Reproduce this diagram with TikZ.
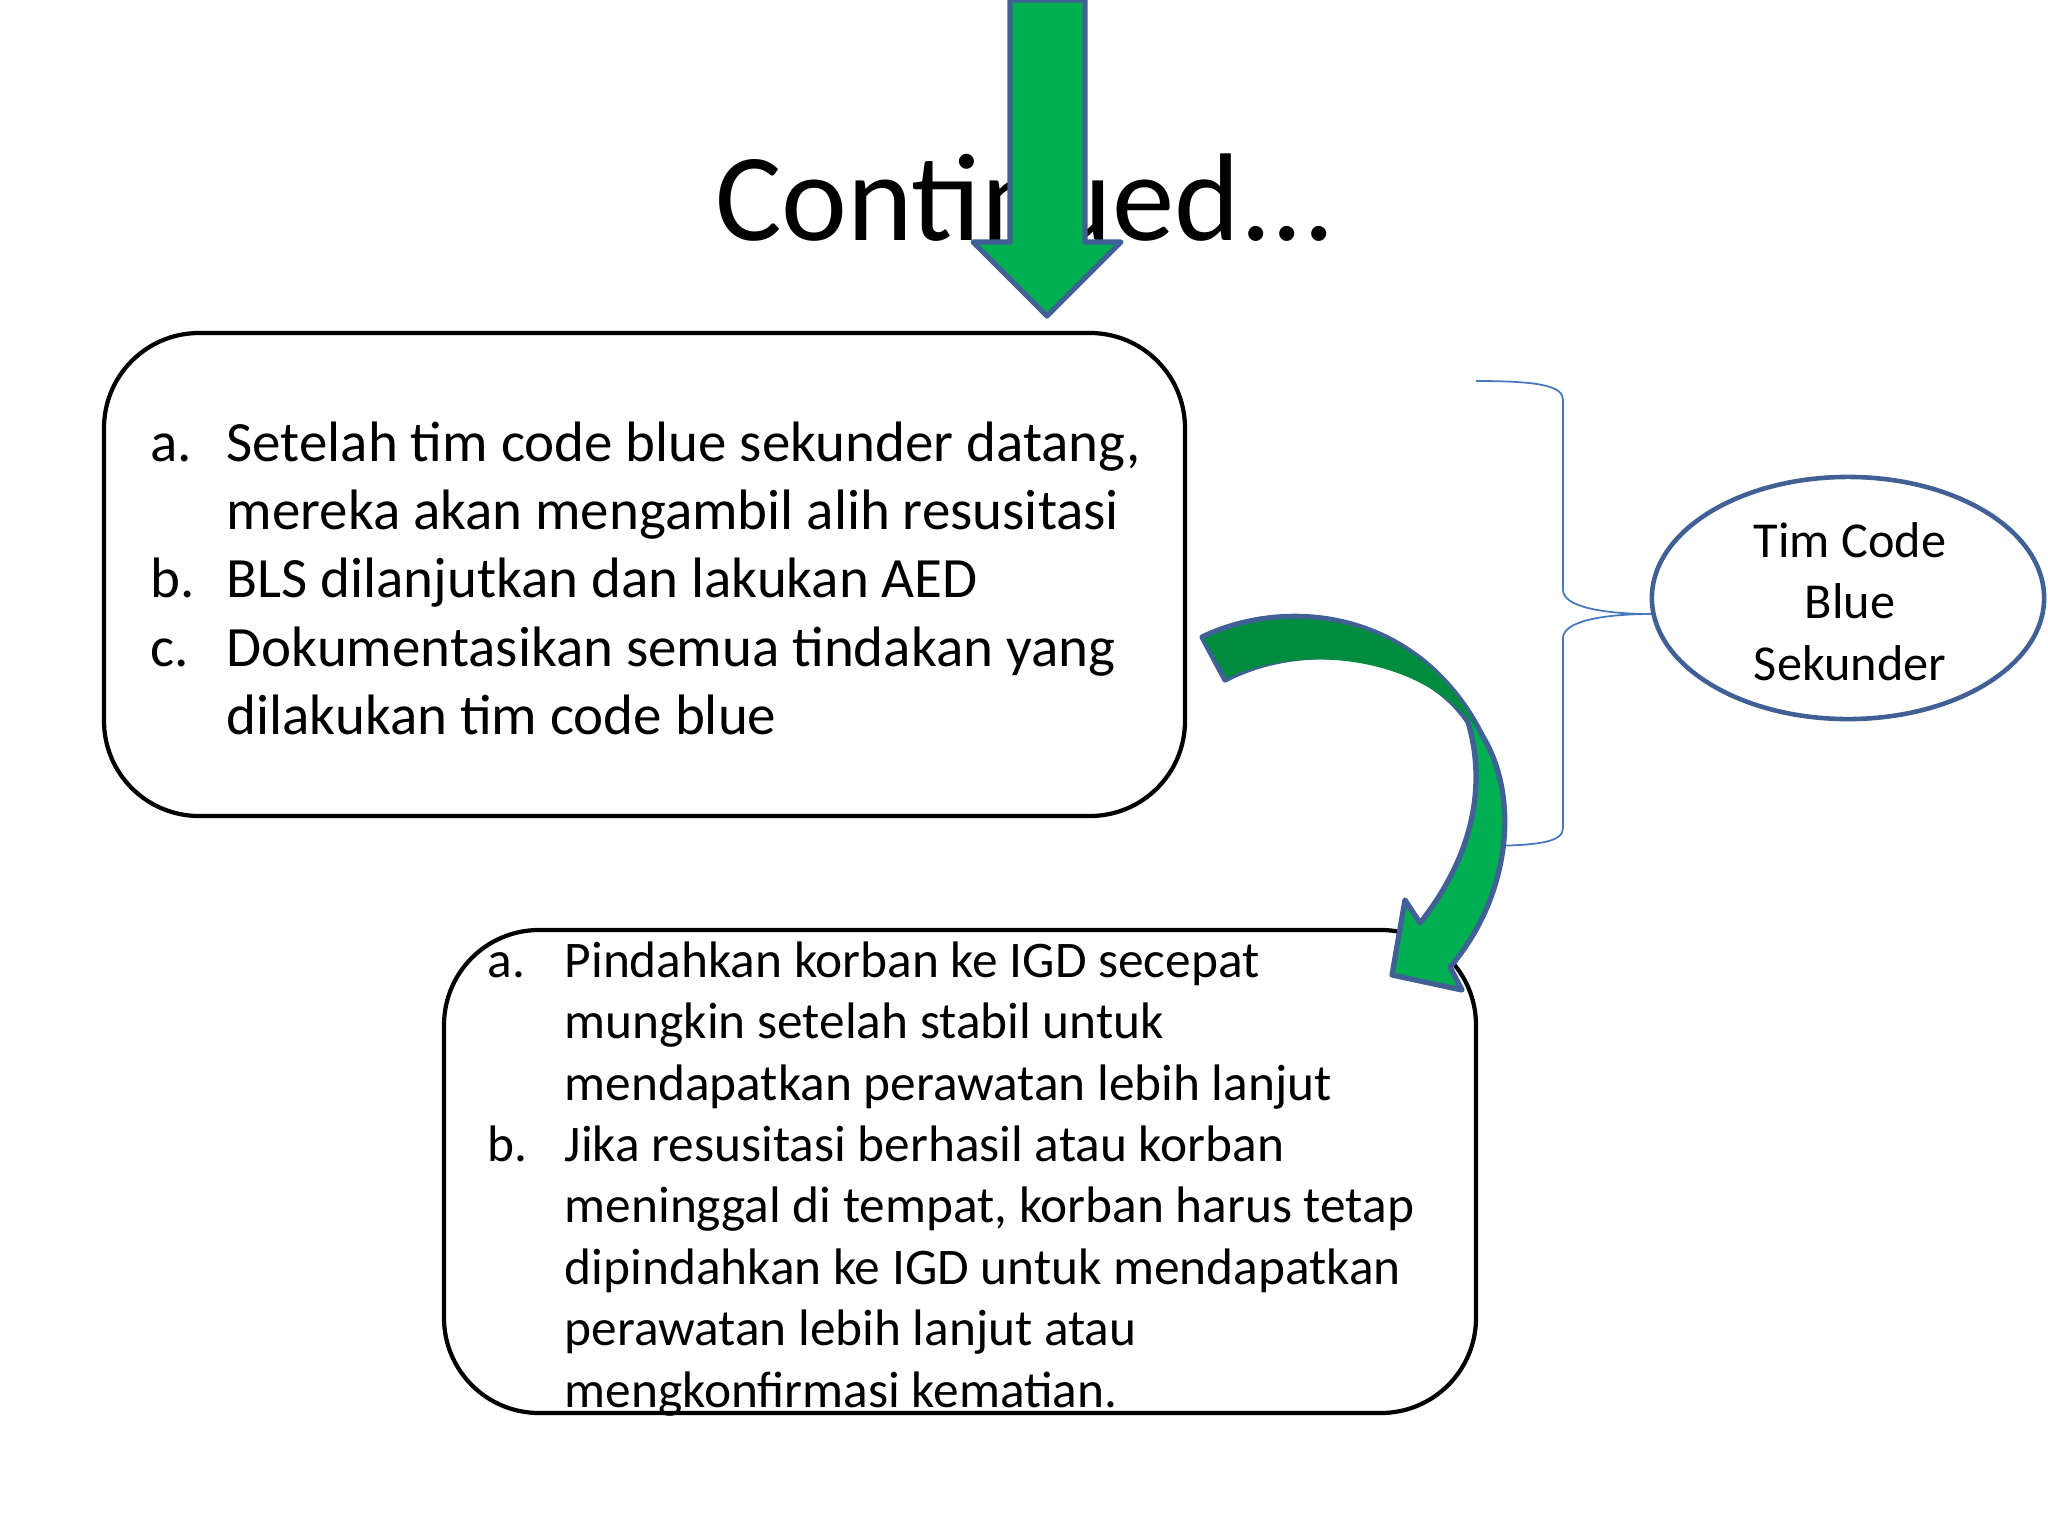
\documentclass[tikz,border=0pt]{standalone}
\usepackage{fontspec}
\usetikzlibrary{shapes.geometric}
\setmainfont{Carlito}
\definecolor{grn}{RGB}{0,176,80}
\definecolor{dgrn}{RGB}{0,140,62}
\definecolor{bordb}{RGB}{64,96,150}
\definecolor{braceb}{RGB}{70,120,190}
\begin{document}
\begin{tikzpicture}[x=0.01cm,y=-0.01cm,
  box/.style={draw=black,line width=1.2pt,rounded corners=0.95cm},
  bt/.style={anchor=base west,inner sep=0pt,font=\fontsize{16.2}{19}\selectfont},
  lt/.style={anchor=base west,inner sep=0pt,font=\fontsize{14.6}{17}\selectfont},
  et/.style={anchor=base,inner sep=0pt,font=\fontsize{14.3}{17}\selectfont},
  arr/.style={fill=grn,draw=bordb,line width=1.5pt,line join=round}]
\useasboundingbox (0,0) rectangle (2048,1536);
\node[anchor=base,inner sep=0pt,font=\fontsize{35.5}{42}\selectfont] (title) at (1025,240) {Continued...};
\draw[box] (104,333) rectangle (1185,816);
\draw[box] (444,930) rectangle (1476,1413);
% down arrow
\draw[arr] (1010,0) -- (1085,0) -- (1085,242) -- (1121,242) -- (1047,316) -- (973,242) -- (1010,242) -- cycle;
% top box text
\node[bt] (a1) at (150,461) {a.};
\node[bt] (t1) at (226,461) {Setelah tim code blue sekunder datang,};
\node[bt] (t2) at (226,529) {mereka akan mengambil alih resusitasi};
\node[bt] (b1) at (150,597) {b.};
\node[bt] (t3) at (226,597) {BLS dilanjutkan dan lakukan AED};
\node[bt] (c1) at (150,666) {c.};
\node[bt] (t4) at (226,666) {Dokumentasikan semua tindakan yang};
\node[bt] (t5) at (226,734) {dilakukan tim code blue};
% lower box text
\node[lt] (la) at (487,977) {a.};
\node[lt] (u1) at (564,977) {Pindahkan korban ke IGD secepat};
\node[lt] (u2) at (564,1038) {mungkin setelah stabil untuk};
\node[lt] (u3) at (564,1100) {mendapatkan perawatan lebih lanjut};
\node[lt] (lb) at (487,1161) {b.};
\node[lt] (u4) at (564,1161) {Jika resusitasi berhasil atau korban};
\node[lt] (u5) at (564,1222) {meninggal di tempat, korban harus tetap};
\node[lt] (u6) at (564,1284) {dipindahkan ke IGD untuk mendapatkan};
\node[lt] (u7) at (564,1345) {perawatan lebih lanjut atau};
\node[lt] (u8) at (564,1407) {mengkonfirmasi kematian.};
% brace
\draw[braceb,line width=0.5pt] (1476,381) .. controls (1540,381) and (1563,386) .. (1563,400) -- (1563,590) .. controls (1563,606) and (1600,614) .. (1652,614) .. controls (1600,614) and (1563,622) .. (1563,638) -- (1563,828) .. controls (1563,842) and (1540,846) .. (1476,846);
% ellipse
\node[draw=bordb,line width=1.3pt,ellipse,minimum width=3.92cm,minimum height=2.42cm,inner sep=0pt] (e) at (1848,598) {};
\node[et] (e1) at (1850,557) {Tim Code};
\node[et] (e2) at (1850,618) {Blue};
\node[et] (e3) at (1850,680) {Sekunder};
% curved arrow
\draw[arr] (1202,637) .. controls (1290,595) and (1420,612) .. (1482,735) .. controls (1522,800) and (1508,900) .. (1450,967) -- (1462,990) -- (1392,975) -- (1405,900) -- (1420,923) .. controls (1470,860) and (1488,790) .. (1468,722) .. controls (1420,650) and (1300,640) .. (1225,680) -- cycle;
\fill[dgrn] (1204,639) .. controls (1290,598) and (1420,615) .. (1478,730) .. controls (1420,654) and (1300,644) .. (1227,678) -- cycle;
\end{tikzpicture}
\end{document}
